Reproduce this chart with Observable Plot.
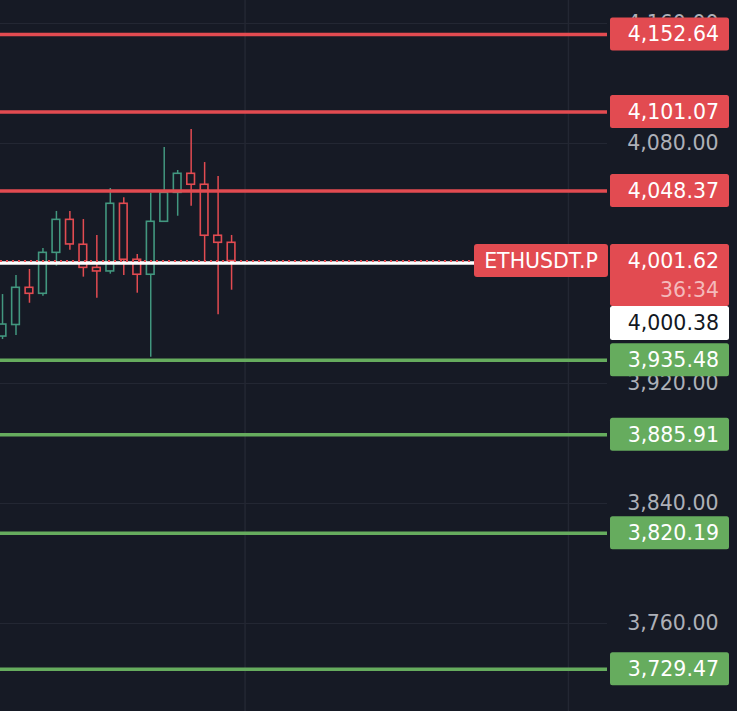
<!DOCTYPE html>
<html><head><meta charset="utf-8">
<script src="https://cdn.jsdelivr.net/npm/d3@7"></script>
<script src="https://cdn.jsdelivr.net/npm/@observablehq/plot@0.6"></script>
<style>
html,body{margin:0;padding:0;background:#161a25;overflow:hidden}
svg{display:block}
</style></head><body><div id="chart"></div>
<script>
// ---- data ----
const opens  = [3951.3, 3959.0, 3983.8, 3979.8, 4007.1, 4029.1, 4012.5, 3997.1, 3994.7, 4039.8, 4002.5, 3992.5, 4027.8, 4047.1, 4059.8, 4052.5, 4018.5, 4013.8];
const highs  = [3979.3, 3992.0, 3996.0, 4010.0, 4034.7, 4034.7, 4029.3, 4018.7, 4050.0, 4043.8, 4006.0, 4046.9, 4077.3, 4062.0, 4089.3, 4067.3, 4058.0, 4018.7];
const lows   = [3949.3, 3952.0, 3973.5, 3978.2, 3998.2, 4008.9, 3990.9, 3976.9, 3992.9, 3992.0, 3980.2, 3937.5, 4027.3, 4031.5, 4038.2, 4001.3, 3965.8, 3982.2];
const closes = [3959.3, 3983.8, 3979.8, 4007.1, 4029.1, 4012.7, 3997.1, 3994.7, 4039.8, 4002.5, 3992.5, 4027.8, 4047.1, 4059.8, 4052.5, 4018.5, 4013.8, 4001.62];
const resistanceLevels = [4152.64, 4101.07, 4048.37];
const supportLevels = [3935.48, 3885.91, 3820.19, 3729.47];
const lastPrice = 4001.62;
const markPrice = 4000.38;
const symbolName = "ETHUSDT.P";
const countdown = "36:34";
const priceTicks = [4160, 4080, 4000, 3920, 3840, 3760];
// the 4,000.00 tick label sits fully under the last-price tag in the reference
const visibleTickLabels = [4160, 4080, 3920, 3840, 3760];
const dayBreaks = [18, 42];

// ---- styles ----
const BG = "#161a25", RED = "#e24b51", GREEN_C = "#42977f", GREEN_L = "#66ac5e";
const GRID = "#232733", GREY = "#adb0b8";
const FONT = "DejaVu Sans", FS = 20.5;

const candles = opens.map((o, i) => ({i, o, h: highs[i], l: lows[i], c: closes[i], up: closes[i] >= o}));
const ups = candles.filter(d => d.up), downs = candles.filter(d => !d.up);
const fmt = d3.format(",.2f");

const W = 737, H = 711, MR = 130;
const chart = Plot.plot({
  width: W, height: H,
  marginLeft: 0, marginRight: MR, marginTop: 0, marginBottom: 0,
  style: {background: BG, fontFamily: FONT},
  x: {domain: [-0.15, 44.9], axis: null},
  y: {domain: [3701.33, 4175.33], axis: null},
  marks: [
    Plot.ruleY(priceTicks, {stroke: GRID, strokeWidth: 1.2}),
    Plot.ruleX(dayBreaks, {stroke: GRID, strokeWidth: 1.5}),
    Plot.text(visibleTickLabels, {y: d => d, text: d => fmt(d), frameAnchor: "right", textAnchor: "end", dx: 111, fill: GREY, fontSize: FS}),
    Plot.ruleX(ups, {x: "i", y1: "l", y2: "h", stroke: GREEN_C, strokeWidth: 1.5}),
    Plot.ruleX(downs, {x: "i", y1: "l", y2: "h", stroke: RED, strokeWidth: 1.5}),
    Plot.rect(ups, {x1: d => d.i - 0.5, x2: d => d.i + 0.5, y1: "o", y2: "c", insetLeft: 2.9, insetRight: 2.9, fill: BG, stroke: GREEN_C, strokeWidth: 1.6}),
    Plot.rect(downs, {x1: d => d.i - 0.5, x2: d => d.i + 0.5, y1: "o", y2: "c", insetLeft: 2.9, insetRight: 2.9, fill: BG, stroke: RED, strokeWidth: 1.6}),
    Plot.ruleY(resistanceLevels, {stroke: RED, strokeWidth: 3.5}),
    Plot.ruleY(supportLevels, {stroke: GREEN_L, strokeWidth: 3.5}),
    Plot.ruleY([markPrice], {stroke: "#ffffff", strokeWidth: 3.5}),
    Plot.ruleY([lastPrice], {stroke: RED, strokeWidth: 2, strokeDasharray: "2,4"})
  ]
});
document.getElementById("chart").appendChild(chart);

// ---- price-scale labels, positioned with Plot's y scale ----
(function () {
  const ys = chart.scale("y");
  const y = v => ys.apply(v);
  const svg = d3.select(chart);
  const g = svg.append("g").attr("font-family", FONT).attr("font-size", FS);
  const boxX = W - MR + 3, boxW = 119, boxH = 33, textX = boxX + 109;

  function priceBox(v, fill, txtFill, label) {
    const py = y(v);
    g.append("rect").attr("x", boxX).attr("y", py - boxH / 2).attr("width", boxW).attr("height", boxH).attr("rx", 2.5).attr("fill", fill);
    g.append("text").attr("x", textX).attr("y", py).attr("dy", "0.36em").attr("text-anchor", "end").attr("fill", txtFill).text(label);
  }
  resistanceLevels.forEach(v => priceBox(v, RED, "#ffffff", fmt(v)));
  supportLevels.forEach(v => priceBox(v, GREEN_L, "#ffffff", fmt(v)));

  const pl = y(lastPrice);
  const boxTop = pl - boxH / 2;
  g.append("rect").attr("x", boxX).attr("y", boxTop).attr("width", boxW).attr("height", 62).attr("rx", 2.5).attr("fill", RED);
  g.append("text").attr("x", textX).attr("y", pl).attr("dy", "0.36em").attr("text-anchor", "end").attr("fill", "#ffffff").text(fmt(lastPrice));
  g.append("text").attr("x", textX).attr("y", pl + 29).attr("dy", "0.36em").attr("text-anchor", "end").attr("fill", "#f4b9bb").text(countdown);
  g.append("rect").attr("x", boxX).attr("y", boxTop + 62).attr("width", boxW).attr("height", 34).attr("rx", 2.5).attr("fill", "#ffffff");
  g.append("text").attr("x", textX).attr("y", boxTop + 62 + 17).attr("dy", "0.36em").attr("text-anchor", "end").attr("fill", "#131722").text(fmt(markPrice));

  g.append("rect").attr("x", 474).attr("y", boxTop).attr("width", 134).attr("height", boxH).attr("rx", 3).attr("fill", RED);
  g.append("text").attr("x", 474 + 67).attr("y", pl).attr("dy", "0.36em").attr("text-anchor", "middle").attr("fill", "#ffffff").text(symbolName);
})();
</script>
</body></html>
